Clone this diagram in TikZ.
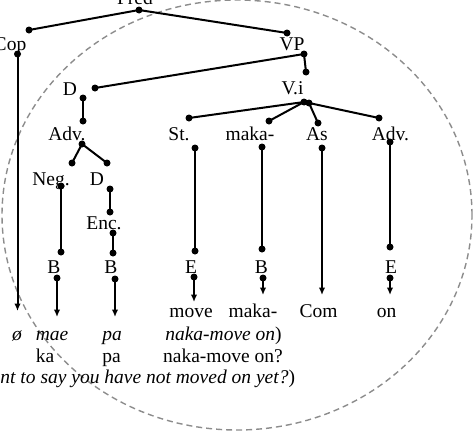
\documentclass[tikz,border=0pt]{standalone}
\usepackage{fontspec}
\setmainfont{Liberation Serif}
\usetikzlibrary{arrows.meta}
\newcommand{\lblfont}{\fontsize{19.5}{23}\selectfont}
\tikzset{
  lbl/.style={anchor=base, inner sep=0pt, outer sep=0pt, font=\lblfont},
  branch/.style={line width=2pt, line cap=round},
  arr/.style={line width=2pt, -{Latex[length=7.5pt,width=6.5pt]}},
  blob/.style={fill=black},
  ring/.style={draw=black!45, line width=1.4pt, dash pattern=on 6pt off 4pt}
}
\begin{document}
\begin{tikzpicture}[x=1pt,y=-1pt]
\useasboundingbox (0,0) rectangle (474,431);
\clip (0,0) rectangle (474,431);
% dashed ellipse
\draw[ring] (237,215) ellipse [x radius=235pt, y radius=215pt];
% dot coordinates
\coordinate (pred) at (139,10);
\coordinate (copU) at (29,30);
\coordinate (copL) at (17.5,54);
\coordinate (copT) at (17.5,311);
\coordinate (vpU) at (287,33);
\coordinate (vpL) at (304,54);
\coordinate (dU) at (95,88);
\coordinate (dL) at (83,98);
\coordinate (advU) at (83,121);
\coordinate (advL) at (82,144);
\coordinate (negU) at (72,163);
\coordinate (negL) at (61,186);
\coordinate (bAU) at (61,252);
\coordinate (bAL) at (57,278);
\coordinate (bAT) at (57,317);
\coordinate (dbU) at (107,163);
\coordinate (dbL) at (110,189);
\coordinate (encU) at (110,212);
\coordinate (encL) at (113,233);
\coordinate (bBU) at (113,253);
\coordinate (bBL) at (115,279);
\coordinate (bBT) at (115,317);
\coordinate (viU) at (306,72);
\coordinate (viLa) at (304,102);
\coordinate (viLb) at (309,103);
\coordinate (stU) at (189,118);
\coordinate (stL) at (195,148);
\coordinate (eAU) at (195,251);
\coordinate (eAL) at (194,277);
\coordinate (eAT) at (194,302);
\coordinate (mkU) at (269,121);
\coordinate (mkL) at (262,147);
\coordinate (bCU) at (262,249);
\coordinate (bCL) at (263,278);
\coordinate (bCT) at (263,295);
\coordinate (asU) at (318,123);
\coordinate (asL) at (322,148);
\coordinate (asT) at (322,295);
\coordinate (avU) at (379,118);
\coordinate (avL) at (390,142);
\coordinate (eBU) at (390,247);
\coordinate (eBL) at (390,278);
\coordinate (eBT) at (390,295);
% labels
\node[lbl] (tPred) at (135,5) {Pred};
\node[lbl] (tCop) at (10,50) {Cop};
\node[lbl] (tVP) at (292,50) {VP};
\node[lbl] (tD) at (70,95) {D};
\node[lbl] (tVi) at (292.5,94) {V.i};
\node[lbl] (tAdv) at (67,140) {Adv.};
\node[lbl] (tSt) at (179,140) {St.};
\node[lbl] (tMk) at (250,140) {maka-};
\node[lbl] (tAs) at (317,140) {As};
\node[lbl] (tAv) at (390.5,140) {Adv.};
\node[lbl] (tNeg) at (51,185) {Neg.};
\node[lbl] (tDb) at (97,185) {D};
\node[lbl] (tEnc) at (104,229) {Enc.};
\node[lbl] (tBA) at (54,273) {B};
\node[lbl] (tBB) at (111,273) {B};
\node[lbl] (tEA) at (191,273) {E};
\node[lbl] (tBC) at (261.5,273) {B};
\node[lbl] (tEB) at (391,273) {E};
% row 1
\node[lbl] (rMove) at (191,317) {move};
\node[lbl] (rMaka) at (253,317) {maka-};
\node[lbl] (rCom) at (318.5,317) {Com};
\node[lbl] (rOn) at (386.5,317) {on};
% row 2
\node[lbl] (gPhi) at (17,340) {\textit{ø}};
\node[lbl] (gMae) at (52,340) {\textit{mae}};
\node[lbl] (gPa) at (112,340) {\textit{pa}};
\node[lbl] (gNaka) at (223.5,340) {\textit{naka-move on})};
% row 3
\node[lbl] (kKa) at (45,362) {ka};
\node[lbl] (kPa) at (111.5,362) {pa};
\node[lbl] (kNaka) at (223,362) {naka-move on?};
% row 4
\node[lbl, anchor=base east] (tr) at (295,383) {\textit{ent to say you have not moved on yet?})};
% branches
\draw[branch] (copU) -- (pred) -- (vpU);
\draw[branch] (dU) -- (vpL) -- (viU);
\draw[branch] (dL) -- (advU);
\draw[branch] (negU) -- (advL) -- (dbU);
\draw[branch] (negL) -- (bAU);
\draw[branch] (dbL) -- (encU);
\draw[branch] (encL) -- (bBU);
\draw[branch] (stU) -- (viLa) -- (mkU);
\draw[branch] (asU) -- (viLb) -- (avU);
\draw[branch] (stL) -- (eAU);
\draw[branch] (mkL) -- (bCU);
\draw[branch] (avL) -- (eBU);
% arrows
\draw[arr] (copL) -- (copT);
\draw[arr] (bAL) -- (bAT);
\draw[arr] (bBL) -- (bBT);
\draw[arr] (eAL) -- (eAT);
\draw[arr] (bCL) -- (bCT);
\draw[arr] (asL) -- (asT);
\draw[arr] (eBL) -- (eBT);
% dots
\foreach \p in {pred,copU,copL,vpU,vpL,dU,dL,advU,advL,negU,negL,bAU,bAL,dbU,dbL,encU,encL,bBU,bBL,viU,viLa,viLb,stU,stL,eAU,eAL,mkU,mkL,bCU,bCL,asU,asL,avU,avL,eBU,eBL}
  \fill[blob] (\p) circle (3.5pt);
\end{tikzpicture}
\end{document}
